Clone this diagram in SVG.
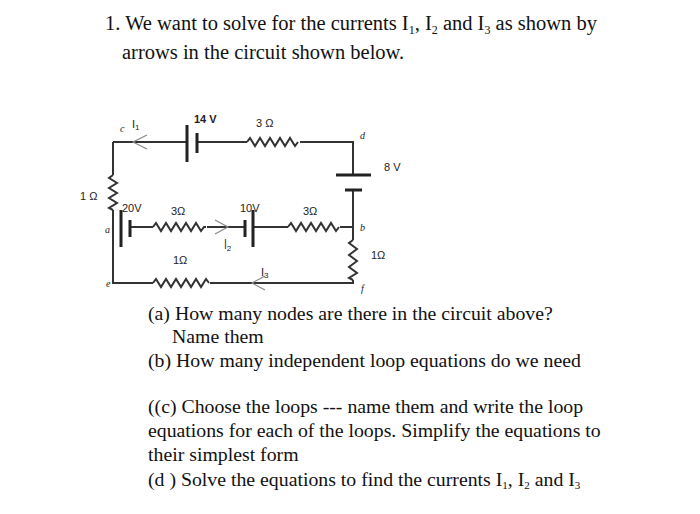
<svg xmlns="http://www.w3.org/2000/svg" width="700" height="514" viewBox="0 0 700 514">
<style>
.w{stroke:#333;stroke-width:2;fill:none}
.p{stroke:#222;stroke-width:3}
.t{font-family:"Liberation Serif",serif;font-size:20.5px;fill:#111}
.q{font-family:"Liberation Serif",serif;font-size:19.8px;fill:#111}
.s{font-family:"Liberation Sans",sans-serif;font-size:11px;fill:#222}
.i{font-family:"Liberation Serif",serif;font-size:10px;font-style:italic;fill:#222}
.a{stroke:#888;stroke-width:1.2;fill:none}
</style>
<rect width="700" height="514" fill="#fff"/>
<text class="t" x="105" y="30">1. We want to solve for the currents I<tspan font-size="12" dy="4">1</tspan><tspan dy="-4">, I</tspan><tspan font-size="12" dy="4">2</tspan><tspan dy="-4"> and I</tspan><tspan font-size="12" dy="4">3</tspan><tspan dy="-4"> as shown by</tspan></text>
<text class="t" x="122" y="59">arrows in the circuit shown below.</text>
<g id="connectors">
<path class="w" d="M113,142 H187 M197,142 H247 M300,142 H353 V175 M353,190 V227 H340 M288,227 H253 M245,227 H207 M153,227 H130 M353,227 V240 M353,280 V283 H210 M153,283 H113 V210 M113,175 V142"/>
<path class="w" d="M247,142 l3,-4 l5,8 l5,-8 l5,8 l5,-8 l5,8 l5,-8 l5,8 l5,-8 l5,8 l3,-4 M153,227 l3,-4 l5,8 l5,-8 l5,8 l5,-8 l5,8 l5,-8 l5,8 l5,-8 l5,8 l3,-4 l2,0 M288,227 l3,-4 l5,8 l5,-8 l5,8 l5,-8 l5,8 l5,-8 l5,8 l5,-8 l5,8 l3,-4 M153,283 l3,-4 l5,8 l5,-8 l5,8 l5,-8 l5,8 l5,-8 l5,8 l5,-8 l5,8 l5,-8 l3,4 M113,175 l-4,3 l8,5 l-8,5 l8,5 l-8,5 l8,5 l-8,5 l4,2 M353,240 l-4,3 l8,6 l-8,6 l8,6 l-8,6 l8,6 l-8,5 l4,2"/>
<path class="p" d="M187,125 V162 M197,133 V153 M336,175 H371 M345,190 H362 M121,210 V247 M130,220 V237 M245,220 V237 M253,210 V247"/>
<path class="a" d="M147,135 L133,142 L147,149 M215,220 L228,227 L215,234 M265,276 L252,283 L265,290"/>
</g>
<g id="labels">
<text class="i" x="120" y="132">c</text>
<text class="s" x="132" y="128">I<tspan font-size="8" dy="2">1</tspan></text>
<text class="s" x="194" y="123" font-weight="bold">14 V</text>
<text class="s" x="256" y="127">3 Ω</text>
<text class="i" x="360" y="139">d</text>
<text class="s" x="384" y="171">8 V</text>
<text class="s" x="80" y="200">1 Ω</text>
<text class="s" x="122" y="212">20V</text>
<text class="s" x="171" y="215">3Ω</text>
<text class="s" x="240" y="212">10V</text>
<text class="s" x="303" y="215">3Ω</text>
<text class="i" x="105" y="233">a</text>
<text class="i" x="360" y="231">b</text>
<text class="s" x="224" y="247">|<tspan font-size="8" dy="4">2</tspan></text>
<text class="s" x="371" y="259">1Ω</text>
<text class="s" x="173" y="264">1Ω</text>
<text class="s" x="261" y="276">I<tspan font-size="8" dy="2">3</tspan></text>
<text class="i" x="106" y="287">e</text>
<text class="i" x="361" y="292">f</text>
</g>
<g id="questions">
<text class="q" x="148" y="320">(a) How many nodes are there in the circuit above?</text>
<text class="q" x="172" y="343">Name them</text>
<text class="q" x="148" y="367">(b) How many independent loop equations do we need</text>
<text class="q" x="148" y="413">((c) Choose the loops --- name them and write the loop</text>
<text class="q" x="148" y="437">equations for each of the loops. Simplify the equations to</text>
<text class="q" x="148" y="461">their simplest form</text>
<text class="q" x="148" y="486">(d ) Solve the equations to find the currents I<tspan font-size="11" dy="3">1</tspan><tspan dy="-3">, I</tspan><tspan font-size="11" dy="3">2</tspan><tspan dy="-3"> and I</tspan><tspan font-size="11" dy="3">3</tspan></text>
</g>
</svg>
